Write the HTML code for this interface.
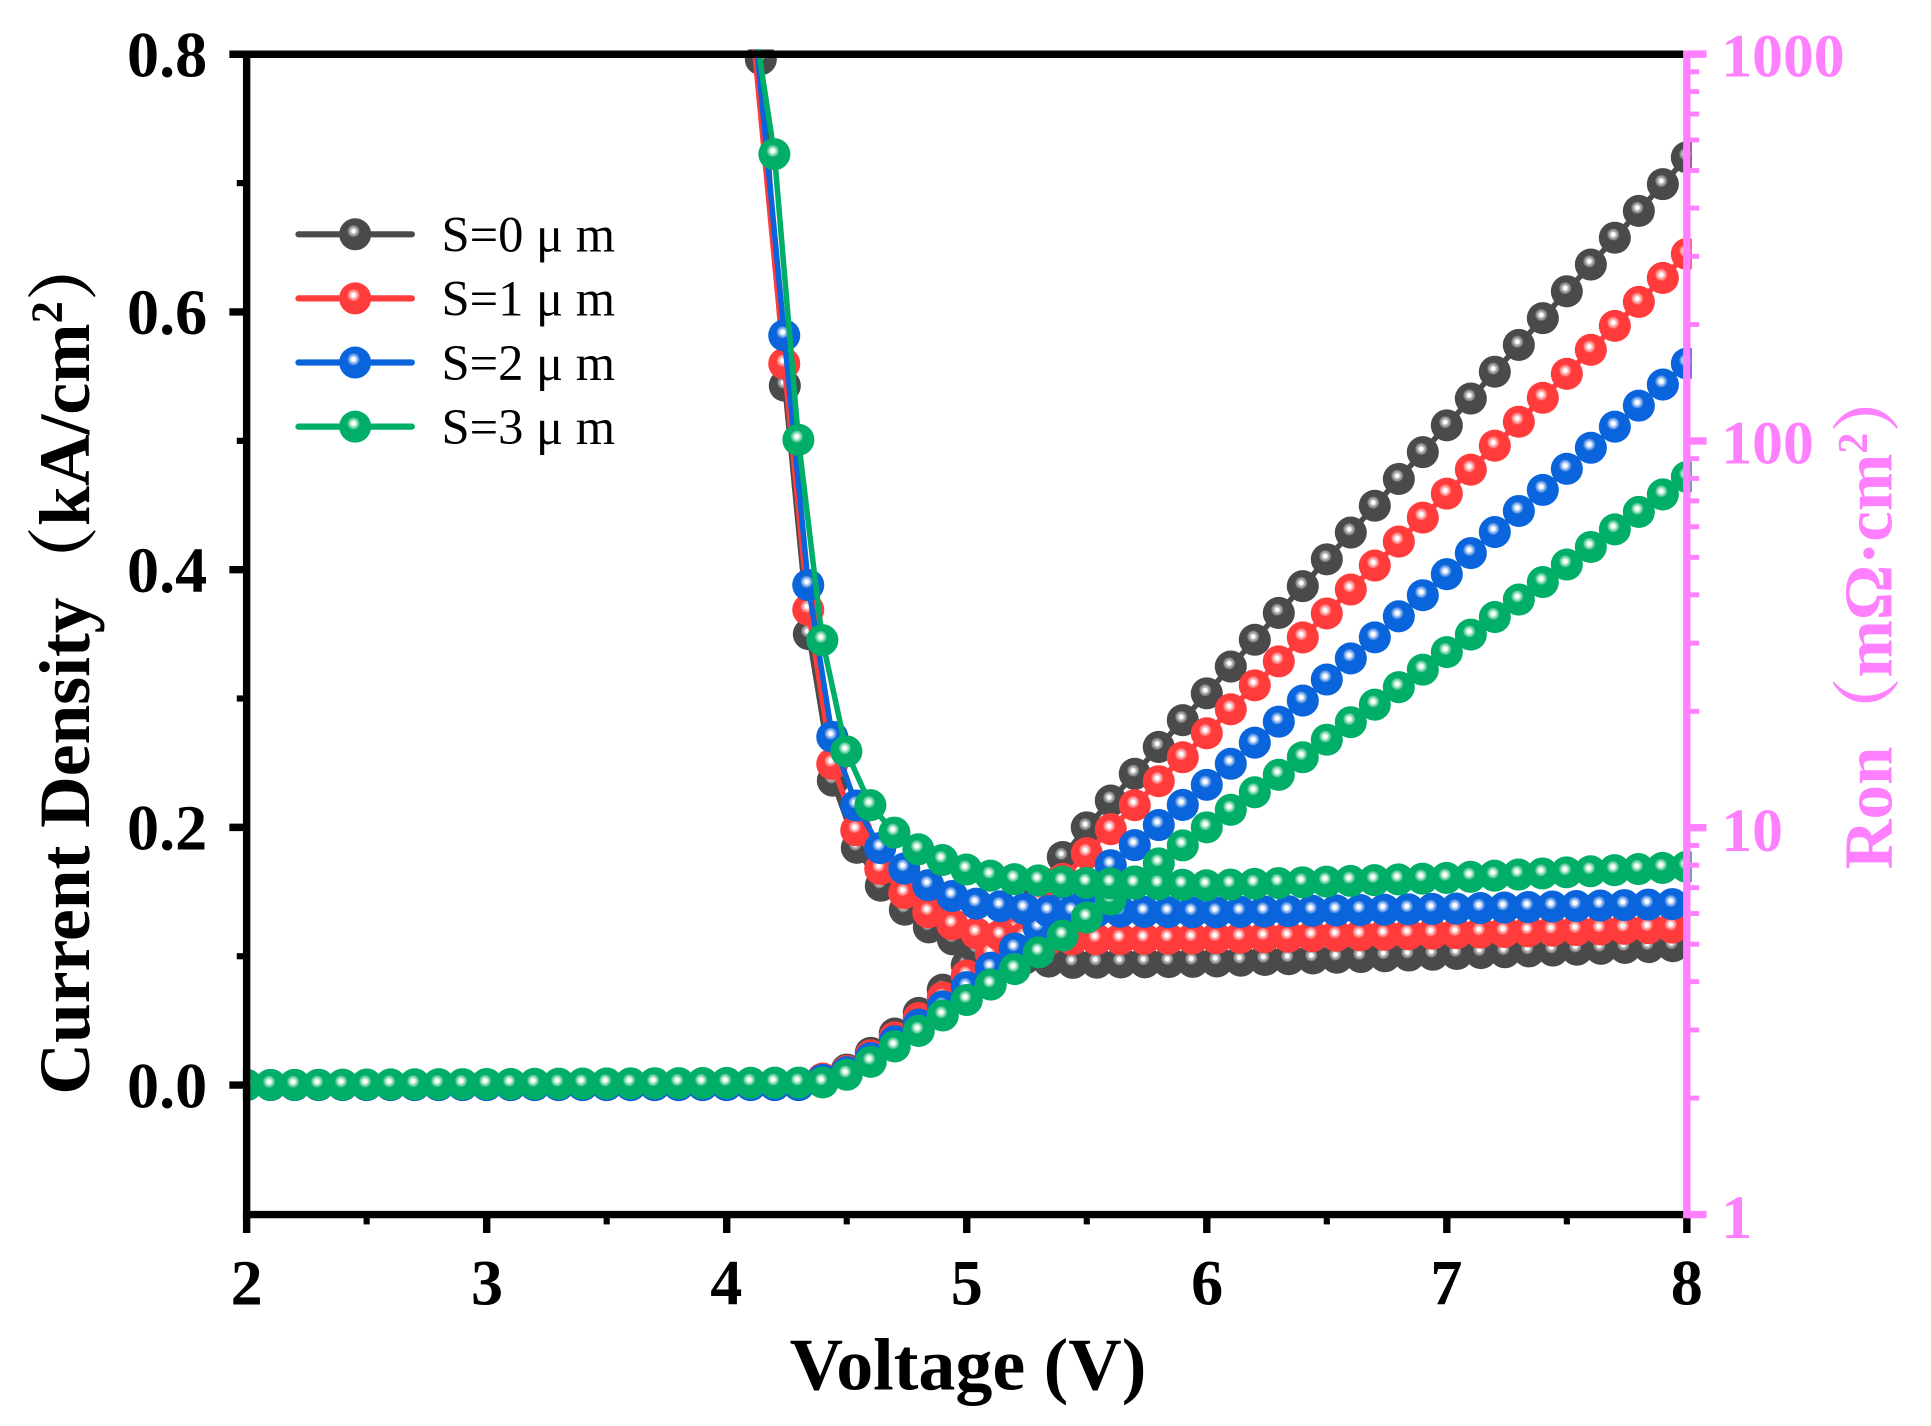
<!DOCTYPE html>
<html><head><meta charset="utf-8"><style>
html,body{margin:0;padding:0;background:#fff;width:1931px;height:1426px;overflow:hidden}
svg{display:block}
text{font-family:"Liberation Serif","Noto Serif CJK SC",serif;font-weight:bold}
</style></head><body>
<svg id="s" width="1931" height="1426" viewBox="0 0 1566 1156.5" xmlns="http://www.w3.org/2000/svg">
<defs>
<radialGradient id="g0" cx="0.45" cy="0.4"><stop offset="0" stop-color="#fff"/><stop offset="0.12" stop-color="#fff"/><stop offset="0.18" stop-color="#bbb"/><stop offset="0.32" stop-color="#8a8a8a"/><stop offset="0.4" stop-color="#4a4a4a"/><stop offset="1" stop-color="#4a4a4a"/></radialGradient>
<radialGradient id="g1" cx="0.45" cy="0.4"><stop offset="0" stop-color="#fff"/><stop offset="0.12" stop-color="#fff"/><stop offset="0.18" stop-color="#ffc0c0"/><stop offset="0.32" stop-color="#ff8080"/><stop offset="0.4" stop-color="#ff3b3b"/><stop offset="1" stop-color="#ff3b3b"/></radialGradient>
<radialGradient id="g2" cx="0.45" cy="0.4"><stop offset="0" stop-color="#fff"/><stop offset="0.12" stop-color="#fff"/><stop offset="0.18" stop-color="#b8d2f5"/><stop offset="0.32" stop-color="#5e98e8"/><stop offset="0.4" stop-color="#0a64dc"/><stop offset="1" stop-color="#0a64dc"/></radialGradient>
<radialGradient id="g3" cx="0.45" cy="0.4"><stop offset="0" stop-color="#fff"/><stop offset="0.12" stop-color="#fff"/><stop offset="0.18" stop-color="#b5ead2"/><stop offset="0.32" stop-color="#5ccb98"/><stop offset="0.4" stop-color="#00ae68"/><stop offset="1" stop-color="#00ae68"/></radialGradient>
<clipPath id="cp"><rect x="197" y="40" width="1175" height="948"/></clipPath>
</defs>
<g id="data" clip-path="url(#cp)"></g>
<g stroke="#000" stroke-width="6" fill="none">
<line x1="200" y1="44" x2="1368" y2="44"/>
<line x1="200" y1="41" x2="200" y2="988"/>
<line x1="197" y1="985" x2="1368" y2="985"/>
</g>
<g id="ticks"></g>
<line x1="1368" y1="41" x2="1368" y2="988" stroke="#ff80ff" stroke-width="6"/>
<g font-size="52" text-anchor="end" fill="#000">
<text x="168" y="62">0.8</text><text x="168" y="271">0.6</text><text x="168" y="480">0.4</text><text x="168" y="689">0.2</text><text x="168" y="898">0.0</text>
</g>
<g font-size="52" text-anchor="middle" fill="#000">
<text x="200" y="1058">2</text><text x="395" y="1058">3</text><text x="589" y="1058">4</text><text x="784" y="1058">5</text><text x="979" y="1058">6</text><text x="1173" y="1058">7</text><text x="1368" y="1058">8</text>
</g>
<g font-size="50" fill="#ff80ff">
<text x="1396" y="62">1000</text><text x="1396" y="376">100</text><text x="1396" y="690">10</text><text x="1396" y="1004">1</text>
</g>
<text x="785" y="1127" font-size="60" text-anchor="middle">Voltage (V)</text>
<text transform="translate(72,537) rotate(-90)" font-size="58" text-anchor="middle">Current Density（kA/cm<tspan font-size="36" dy="-22">2</tspan><tspan dy="22">）</tspan></text>
<text transform="translate(1534,500) rotate(-90)" font-size="56" text-anchor="middle" fill="#ff80ff">Ron（mΩ·cm<tspan font-size="34" dy="-20">2</tspan><tspan dy="20">）</tspan></text>
<g id="leg"></g>
</svg>
<script>
var NS="http://www.w3.org/2000/svg";
function el(p,t,a){var e=document.createElementNS(NS,t);for(var k in a)e.setAttribute(k,a[k]);p.appendChild(e);return e;}
var cols=["#4a4a4a","#ff3b3b","#0a64dc","#00ae68"];
function X(v){return 200+(v-2)*194.67;}
function Y(j){return 880-j*1045;}
function interp(k,x){if(x<=k[0][0])return k[0][1];for(var i=1;i<k.length;i++){if(x<=k[i][0]){var a=k[i-1],b=k[i];return a[1]+(b[1]-a[1])*(x-a[0])/(b[0]-a[0]);}}return k[k.length-1][1];}
var J=[
[[2,0],[4.3,0],[4.4,0.005],[4.5,0.012],[4.6,0.025],[4.7,0.04],[4.8,0.056],[4.9,0.074],[5.0,0.093],[5.1,0.112],[5.2,0.132],[5.3,0.154],[5.4,0.177],[5.5,0.2],[8,0.72]],
[[2,0],[4.3,0],[4.4,0.005],[4.5,0.011],[4.6,0.023],[4.7,0.037],[4.8,0.052],[4.9,0.068],[5.0,0.085],[5.1,0.102],[5.2,0.12],[5.3,0.14],[5.4,0.16],[5.5,0.18],[8,0.645]],
[[2,0],[4.3,0],[4.4,0.004],[4.5,0.01],[4.6,0.021],[4.7,0.034],[4.8,0.047],[4.9,0.061],[5.0,0.076],[5.1,0.091],[5.2,0.106],[5.3,0.122],[5.4,0.138],[5.5,0.155],[6.0,0.233],[8,0.56]],
[[2,0],[4.4,0.002],[4.5,0.008],[4.6,0.018],[4.7,0.03],[4.8,0.042],[4.9,0.054],[5.0,0.066],[5.1,0.078],[5.2,0.09],[5.3,0.103],[5.4,0.116],[5.5,0.13],[6.0,0.2],[8,0.472]]
];
var R=[
{x0:617,pts:[[598,20],[617,48],[636,308],[656,515],[675,632],[695,688],[714,718],[734,738],[753,752],[773,762],[792,770],[812,775],[860,781],[979,780],[1173,774],[1368,767]]},
{x0:636,pts:[[610,20],[636,295],[656,500],[675,620],[695,675],[714,705],[734,725],[753,740],[773,750],[792,757],[850,762],[979,761],[1173,757],[1368,752]]},
{x0:636,pts:[[612,20],[636,272],[656,480],[675,598],[695,655],[714,688],[734,705],[753,718],[773,727],[792,733],[850,739],[979,740],[1173,737],[1368,733]]},
{x0:628,pts:[[615,40],[628,125],[648,363],[668,528],[687,612],[705,652],[725,675],[743,688],[763,697],[783,705],[802,710],[822,713],[880,716],[979,718],[1173,712],[1368,703]]}
];
var D=document.getElementById("data");
function series(i,pts){
 var d="";pts.forEach(function(p,k){d+=(k?"L":"M")+p[0].toFixed(1)+","+p[1].toFixed(1);});
 el(D,"path",{d:d,fill:"none",stroke:cols[i],"stroke-width":4.5});
}
function marks(i,pts){pts.forEach(function(p){el(D,"circle",{cx:p[0],cy:p[1],r:13,fill:"url(#g"+i+")"});});}
for(var i=0;i<4;i++){
 var jp=[];for(var n=0;n<=60;n++){var v=2+n*0.1;jp.push([X(v),Y(interp(J[i],v))]);}
 series(i,jp);marks(i,jp);
 var rp=[];
 for(var x=R[i].x0;x<=1370;x+=19.467){rp.push([x,interp(R[i].pts,x)]);}
 var lp=[[R[i].pts[0][0],R[i].pts[0][1]]].concat(rp);
 series(i,lp);marks(i,rp);
}
var T=document.getElementById("ticks");
[0.8,0.6,0.4,0.2,0.0].forEach(function(j){el(T,"line",{x1:186,x2:200,y1:Y(j),y2:Y(j),stroke:"#000","stroke-width":6});});
[0.7,0.5,0.3,0.1].forEach(function(j){el(T,"line",{x1:192,x2:200,y1:Y(j),y2:Y(j),stroke:"#000","stroke-width":5});});
for(var v=2;v<=8;v++){el(T,"line",{x1:X(v),x2:X(v),y1:985,y2:1000,stroke:"#000","stroke-width":6});}
for(var v=2.5;v<8;v++){el(T,"line",{x1:X(v),x2:X(v),y1:985,y2:993,stroke:"#000","stroke-width":5});}
function LY(r){return 985-Math.log10(r)*313.7;}
for(var d=0;d<=3;d++){var yy=LY(Math.pow(10,d));el(T,"line",{x1:1368,x2:1384,y1:yy,y2:yy,stroke:"#ff80ff","stroke-width":6});
 if(d<3)for(var m=2;m<=9;m++){var ym=LY(m*Math.pow(10,d));el(T,"line",{x1:1368,x2:1378,y1:ym,y2:ym,stroke:"#ff80ff","stroke-width":4});}}
var L=document.getElementById("leg");
var labs=["S=0 μ m","S=1 μ m","S=2 μ m","S=3 μ m"];
for(var i=0;i<4;i++){var y=190+i*52;
 el(L,"line",{x1:242,x2:334,y1:y,y2:y,stroke:cols[i],"stroke-width":5,"stroke-linecap":"round"});
 el(L,"circle",{cx:288,cy:y,r:13,fill:"url(#g"+i+")"});
 var t=el(L,"text",{x:358,y:y+14,"font-size":41,fill:"#000"});t.style.fontWeight="normal";t.textContent=labs[i];}
</script>
</body></html>
